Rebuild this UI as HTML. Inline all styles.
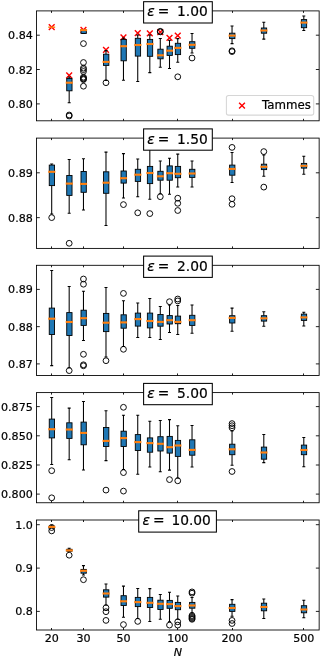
<!DOCTYPE html>
<html lang="en"><head><meta charset="utf-8"><title>Boxplots</title>
<style>
html,body{margin:0;padding:0;background:#fff;}
body{width:321px;height:658px;overflow:hidden;}
svg text{font-family:"DejaVu Sans", "Liberation Sans", sans-serif;fill:#000;stroke:#000;stroke-width:0.2px;}
</style></head><body>
<svg width="321" height="658" viewBox="0 0 321 658" style="display:block">
<rect width="321" height="658" fill="#fff"/>
<g class="panel">
<path d="M48.8 24.3L54.6 30.1M48.8 30.1L54.6 24.3" stroke="#f00" stroke-width="1.4" fill="none"/>
<path d="M66.28 72.4L72.08 78.2M66.28 78.2L72.08 72.4" stroke="#f00" stroke-width="1.4" fill="none"/>
<path d="M80.56 27L86.36 32.8M80.56 32.8L86.36 27" stroke="#f00" stroke-width="1.4" fill="none"/>
<path d="M103.09 47L108.89 52.8M103.09 52.8L108.89 47" stroke="#f00" stroke-width="1.4" fill="none"/>
<path d="M120.56 34.4L126.36 40.2M120.56 40.2L126.36 34.4" stroke="#f00" stroke-width="1.4" fill="none"/>
<path d="M134.84 30.3L140.64 36.1M134.84 36.1L140.64 30.3" stroke="#f00" stroke-width="1.4" fill="none"/>
<path d="M146.92 30.5L152.72 36.3M146.92 36.3L152.72 30.5" stroke="#f00" stroke-width="1.4" fill="none"/>
<path d="M157.38 29.3L163.18 35.1M157.38 35.1L163.18 29.3" stroke="#f00" stroke-width="1.4" fill="none"/>
<path d="M166.6 34.9L172.4 40.7M166.6 40.7L172.4 34.9" stroke="#f00" stroke-width="1.4" fill="none"/>
<path d="M174.85 32.7L180.65 38.5M174.85 38.5L180.65 32.7" stroke="#f00" stroke-width="1.4" fill="none"/>
<path d="M69.18 77V78.5M69.18 90.8V102.7M67.68 77H70.68M67.68 102.7H70.68" stroke="#000" stroke-width="1.05" fill="none"/>
<rect x="66.73" y="78.5" width="5.3" height="12.3" fill="#1f77b4" stroke="#000" stroke-width="0.9"/>
<path d="M83.46 29.6V29.6M83.46 33.5V33.5M81.96 29.6H84.96M81.96 33.5H84.96" stroke="#000" stroke-width="1.05" fill="none"/>
<rect x="81.01" y="29.6" width="5.3" height="3.9" fill="#1f77b4" stroke="#000" stroke-width="0.9"/>
<path d="M105.99 50.6V54.2M105.99 65.4V80.5M104.49 50.6H107.49M104.49 80.5H107.49" stroke="#000" stroke-width="1.05" fill="none"/>
<rect x="103.54" y="54.2" width="5.3" height="11.2" fill="#1f77b4" stroke="#000" stroke-width="0.9"/>
<path d="M123.46 38V39.4M123.46 60.8V80.2M121.96 38H124.96M121.96 80.2H124.96" stroke="#000" stroke-width="1.05" fill="none"/>
<rect x="121.01" y="39.4" width="5.3" height="21.4" fill="#1f77b4" stroke="#000" stroke-width="0.9"/>
<path d="M137.74 35V38.3M137.74 56.1V81.5M136.24 35H139.24M136.24 81.5H139.24" stroke="#000" stroke-width="1.05" fill="none"/>
<rect x="135.29" y="38.3" width="5.3" height="17.8" fill="#1f77b4" stroke="#000" stroke-width="0.9"/>
<path d="M149.82 35V39.4M149.82 56.3V72.6M148.32 35H151.32M148.32 72.6H151.32" stroke="#000" stroke-width="1.05" fill="none"/>
<rect x="147.37" y="39.4" width="5.3" height="16.9" fill="#1f77b4" stroke="#000" stroke-width="0.9"/>
<path d="M160.28 38.4V49.2M160.28 58.8V67.2M158.78 38.4H161.78M158.78 67.2H161.78" stroke="#000" stroke-width="1.05" fill="none"/>
<rect x="157.83" y="49.2" width="5.3" height="9.6" fill="#1f77b4" stroke="#000" stroke-width="0.9"/>
<path d="M169.5 40.3V46.2M169.5 55.4V68.4M168 40.3H171M168 68.4H171" stroke="#000" stroke-width="1.05" fill="none"/>
<rect x="167.05" y="46.2" width="5.3" height="9.2" fill="#1f77b4" stroke="#000" stroke-width="0.9"/>
<path d="M177.75 38.6V43.3M177.75 54.6V62.2M176.25 38.6H179.25M176.25 62.2H179.25" stroke="#000" stroke-width="1.05" fill="none"/>
<rect x="175.3" y="43.3" width="5.3" height="11.3" fill="#1f77b4" stroke="#000" stroke-width="0.9"/>
<path d="M192.03 33.5V41.7M192.03 48.3V53M190.53 33.5H193.53M190.53 53H193.53" stroke="#000" stroke-width="1.05" fill="none"/>
<rect x="189.58" y="41.7" width="5.3" height="6.6" fill="#1f77b4" stroke="#000" stroke-width="0.9"/>
<path d="M232.04 26V33.2M232.04 38.6V43.6M230.54 26H233.54M230.54 43.6H233.54" stroke="#000" stroke-width="1.05" fill="none"/>
<rect x="229.59" y="33.2" width="5.3" height="5.4" fill="#1f77b4" stroke="#000" stroke-width="0.9"/>
<path d="M263.8 22.3V28M263.8 33.2V39.1M262.3 22.3H265.3M262.3 39.1H265.3" stroke="#000" stroke-width="1.05" fill="none"/>
<rect x="261.35" y="28" width="5.3" height="5.2" fill="#1f77b4" stroke="#000" stroke-width="0.9"/>
<path d="M303.8 15.9V19.6M303.8 27.7V30.5M302.3 15.9H305.3M302.3 30.5H305.3" stroke="#000" stroke-width="1.05" fill="none"/>
<rect x="301.35" y="19.6" width="5.3" height="8.1" fill="#1f77b4" stroke="#000" stroke-width="0.9"/>
<circle cx="69.18" cy="115" r="2.9" fill="none" stroke="#000" stroke-width="0.95"/>
<circle cx="69.18" cy="116" r="2.9" fill="none" stroke="#000" stroke-width="0.95"/>
<circle cx="83.46" cy="43.6" r="2.9" fill="none" stroke="#000" stroke-width="0.95"/>
<circle cx="83.46" cy="62.5" r="2.9" fill="none" stroke="#000" stroke-width="0.95"/>
<circle cx="83.46" cy="68.1" r="2.9" fill="none" stroke="#000" stroke-width="0.95"/>
<circle cx="83.46" cy="69.6" r="2.9" fill="none" stroke="#000" stroke-width="0.95"/>
<circle cx="83.46" cy="71.5" r="2.9" fill="none" stroke="#000" stroke-width="0.95"/>
<circle cx="83.46" cy="77.2" r="2.9" fill="none" stroke="#000" stroke-width="0.95"/>
<circle cx="83.46" cy="78.2" r="2.9" fill="none" stroke="#000" stroke-width="0.95"/>
<circle cx="83.46" cy="78.9" r="2.9" fill="none" stroke="#000" stroke-width="0.95"/>
<circle cx="83.46" cy="79.6" r="2.9" fill="none" stroke="#000" stroke-width="0.95"/>
<circle cx="83.46" cy="86.2" r="2.9" fill="none" stroke="#000" stroke-width="0.95"/>
<circle cx="105.99" cy="82.7" r="2.9" fill="none" stroke="#000" stroke-width="0.95"/>
<circle cx="160.28" cy="31.3" r="2.9" fill="none" stroke="#000" stroke-width="0.95"/>
<circle cx="160.28" cy="31.9" r="2.9" fill="none" stroke="#000" stroke-width="0.95"/>
<circle cx="177.75" cy="76.8" r="2.9" fill="none" stroke="#000" stroke-width="0.95"/>
<circle cx="192.03" cy="58" r="2.9" fill="none" stroke="#000" stroke-width="0.95"/>
<circle cx="232.04" cy="50.8" r="2.9" fill="none" stroke="#000" stroke-width="0.95"/>
<circle cx="232.04" cy="51.6" r="2.9" fill="none" stroke="#000" stroke-width="0.95"/>
<path d="M48.25 27.2H55.15" stroke="#ff7f0e" stroke-width="1.4"/>
<path d="M65.73 82.7H72.83" stroke="#ff7f0e" stroke-width="2.1"/>
<path d="M80.01 30.1H87.11" stroke="#ff7f0e" stroke-width="2.1"/>
<path d="M102.54 61.9H109.64" stroke="#ff7f0e" stroke-width="2.1"/>
<path d="M120.01 46.2H127.11" stroke="#ff7f0e" stroke-width="2.1"/>
<path d="M134.29 45H141.39" stroke="#ff7f0e" stroke-width="2.1"/>
<path d="M146.37 44H153.47" stroke="#ff7f0e" stroke-width="2.1"/>
<path d="M156.83 55.3H163.93" stroke="#ff7f0e" stroke-width="2.1"/>
<path d="M166.05 50.7H173.15" stroke="#ff7f0e" stroke-width="2.1"/>
<path d="M174.3 47.9H181.4" stroke="#ff7f0e" stroke-width="2.1"/>
<path d="M188.58 44.8H195.68" stroke="#ff7f0e" stroke-width="2.1"/>
<path d="M228.59 35.6H235.69" stroke="#ff7f0e" stroke-width="2.1"/>
<path d="M260.35 30.5H267.45" stroke="#ff7f0e" stroke-width="2.1"/>
<path d="M300.35 22.6H307.45" stroke="#ff7f0e" stroke-width="2.1"/>
<path d="M51.5 10.9v2.0M51.5 120.8v-2.0M83.5 10.9v2.0M83.5 120.8v-2.0M123.5 10.9v2.0M123.5 120.8v-2.0M177.5 10.9v2.0M177.5 120.8v-2.0M232.5 10.9v2.0M232.5 120.8v-2.0M303.5 10.9v2.0M303.5 120.8v-2.0M36.5 35.2h3.3M319.15 35.2h-3.3M36.5 69.5h3.3M319.15 69.5h-3.3M36.5 103.9h3.3M319.15 103.9h-3.3" stroke="#000" stroke-width="0.87" fill="none"/>
<rect x="226.4" y="95.4" width="87.3" height="19.7" rx="2.2" fill="#fff" fill-opacity="0.8" stroke="#ccc" stroke-opacity="0.8" stroke-width="1.05"/>
<path d="M239.1 102.7L244.9 108.5M239.1 108.5L244.9 102.7" stroke="#f00" stroke-width="1.4" fill="none"/>
<text x="262.0" y="109.4" font-size="11.8">Tammes</text>
<rect x="36.5" y="10.9" width="282.65" height="109.9" fill="none" stroke="#000" stroke-width="0.87"/>
<text x="32.8" y="39.2" font-size="11.1" text-anchor="end">0.84</text>
<text x="32.8" y="73.5" font-size="11.1" text-anchor="end">0.82</text>
<text x="32.8" y="107.9" font-size="11.1" text-anchor="end">0.80</text>
<rect x="143.6" y="1.7" width="68.7" height="21.3" fill="#fff" stroke="#000" stroke-width="1.05"/>
<text y="16.3" font-size="13.8"><tspan x="147.2" font-style="italic">ε</tspan><tspan x="157.7">=</tspan><tspan x="177.1">1.00</tspan></text>
</g>
<g class="panel">
<path d="M51.7 163.9V165.1M51.7 185.6V214M50.2 163.9H53.2M50.2 214H53.2" stroke="#000" stroke-width="1.05" fill="none"/>
<rect x="49.25" y="165.1" width="5.3" height="20.5" fill="#1f77b4" stroke="#000" stroke-width="0.9"/>
<path d="M69.18 159.5V175.5M69.18 195.4V213.2M67.68 159.5H70.68M67.68 213.2H70.68" stroke="#000" stroke-width="1.05" fill="none"/>
<rect x="66.73" y="175.5" width="5.3" height="19.9" fill="#1f77b4" stroke="#000" stroke-width="0.9"/>
<path d="M83.46 158.7V171.5M83.46 192.3V210M81.96 158.7H84.96M81.96 210H84.96" stroke="#000" stroke-width="1.05" fill="none"/>
<rect x="81.01" y="171.5" width="5.3" height="20.8" fill="#1f77b4" stroke="#000" stroke-width="0.9"/>
<path d="M105.99 152.1V171.8M105.99 193.3V225.5M104.49 152.1H107.49M104.49 225.5H107.49" stroke="#000" stroke-width="1.05" fill="none"/>
<rect x="103.54" y="171.8" width="5.3" height="21.5" fill="#1f77b4" stroke="#000" stroke-width="0.9"/>
<path d="M123.46 153.6V171M123.46 183.1V197.9M121.96 153.6H124.96M121.96 197.9H124.96" stroke="#000" stroke-width="1.05" fill="none"/>
<rect x="121.01" y="171" width="5.3" height="12.1" fill="#1f77b4" stroke="#000" stroke-width="0.9"/>
<path d="M137.74 158.9V169.3M137.74 181.4V196.7M136.24 158.9H139.24M136.24 196.7H139.24" stroke="#000" stroke-width="1.05" fill="none"/>
<rect x="135.29" y="169.3" width="5.3" height="12.1" fill="#1f77b4" stroke="#000" stroke-width="0.9"/>
<path d="M149.82 146V166.4M149.82 183.6V199.2M148.32 146H151.32M148.32 199.2H151.32" stroke="#000" stroke-width="1.05" fill="none"/>
<rect x="147.37" y="166.4" width="5.3" height="17.2" fill="#1f77b4" stroke="#000" stroke-width="0.9"/>
<path d="M160.28 160.9V171.3M160.28 180.2V193.7M158.78 160.9H161.78M158.78 193.7H161.78" stroke="#000" stroke-width="1.05" fill="none"/>
<rect x="157.83" y="171.3" width="5.3" height="8.9" fill="#1f77b4" stroke="#000" stroke-width="0.9"/>
<path d="M169.5 158.3V165.9M169.5 180.2V194.2M168 158.3H171M168 194.2H171" stroke="#000" stroke-width="1.05" fill="none"/>
<rect x="167.05" y="165.9" width="5.3" height="14.3" fill="#1f77b4" stroke="#000" stroke-width="0.9"/>
<path d="M177.75 154.1V166.4M177.75 177.7V186.9M176.25 154.1H179.25M176.25 186.9H179.25" stroke="#000" stroke-width="1.05" fill="none"/>
<rect x="175.3" y="166.4" width="5.3" height="11.3" fill="#1f77b4" stroke="#000" stroke-width="0.9"/>
<path d="M192.03 160.9V169.3M192.03 177.4V186.9M190.53 160.9H193.53M190.53 186.9H193.53" stroke="#000" stroke-width="1.05" fill="none"/>
<rect x="189.58" y="169.3" width="5.3" height="8.1" fill="#1f77b4" stroke="#000" stroke-width="0.9"/>
<path d="M232.04 152.5V165.1M232.04 175.2V182.4M230.54 152.5H233.54M230.54 182.4H233.54" stroke="#000" stroke-width="1.05" fill="none"/>
<rect x="229.59" y="165.1" width="5.3" height="10.1" fill="#1f77b4" stroke="#000" stroke-width="0.9"/>
<path d="M263.8 155V164.2M263.8 169.6V176.3M262.3 155H265.3M262.3 176.3H265.3" stroke="#000" stroke-width="1.05" fill="none"/>
<rect x="261.35" y="164.2" width="5.3" height="5.4" fill="#1f77b4" stroke="#000" stroke-width="0.9"/>
<path d="M303.8 156.3V163.4M303.8 168.1V174.2M302.3 156.3H305.3M302.3 174.2H305.3" stroke="#000" stroke-width="1.05" fill="none"/>
<rect x="301.35" y="163.4" width="5.3" height="4.7" fill="#1f77b4" stroke="#000" stroke-width="0.9"/>
<circle cx="51.7" cy="217.6" r="2.9" fill="none" stroke="#000" stroke-width="0.95"/>
<circle cx="69.18" cy="243.3" r="2.9" fill="none" stroke="#000" stroke-width="0.95"/>
<circle cx="123.46" cy="204.6" r="2.9" fill="none" stroke="#000" stroke-width="0.95"/>
<circle cx="137.74" cy="212.8" r="2.9" fill="none" stroke="#000" stroke-width="0.95"/>
<circle cx="149.82" cy="213.6" r="2.9" fill="none" stroke="#000" stroke-width="0.95"/>
<circle cx="160.28" cy="196.7" r="2.9" fill="none" stroke="#000" stroke-width="0.95"/>
<circle cx="177.75" cy="198.2" r="2.9" fill="none" stroke="#000" stroke-width="0.95"/>
<circle cx="177.75" cy="203.3" r="2.9" fill="none" stroke="#000" stroke-width="0.95"/>
<circle cx="177.75" cy="210.5" r="2.9" fill="none" stroke="#000" stroke-width="0.95"/>
<circle cx="232.04" cy="147.4" r="2.9" fill="none" stroke="#000" stroke-width="0.95"/>
<circle cx="232.04" cy="198.7" r="2.9" fill="none" stroke="#000" stroke-width="0.95"/>
<circle cx="232.04" cy="204.3" r="2.9" fill="none" stroke="#000" stroke-width="0.95"/>
<circle cx="263.8" cy="151.6" r="2.9" fill="none" stroke="#000" stroke-width="0.95"/>
<circle cx="263.8" cy="187.1" r="2.9" fill="none" stroke="#000" stroke-width="0.95"/>
<path d="M48.25 171.8H55.35" stroke="#ff7f0e" stroke-width="2.1"/>
<path d="M65.73 183.6H72.83" stroke="#ff7f0e" stroke-width="2.1"/>
<path d="M80.01 183.9H87.11" stroke="#ff7f0e" stroke-width="2.1"/>
<path d="M102.54 182.7H109.64" stroke="#ff7f0e" stroke-width="2.1"/>
<path d="M120.01 178.2H127.11" stroke="#ff7f0e" stroke-width="2.1"/>
<path d="M134.29 174.7H141.39" stroke="#ff7f0e" stroke-width="2.1"/>
<path d="M146.37 173H153.47" stroke="#ff7f0e" stroke-width="2.1"/>
<path d="M156.83 176.3H163.93" stroke="#ff7f0e" stroke-width="2.1"/>
<path d="M166.05 173.2H173.15" stroke="#ff7f0e" stroke-width="2.1"/>
<path d="M174.3 173.8H181.4" stroke="#ff7f0e" stroke-width="2.1"/>
<path d="M188.58 173.5H195.68" stroke="#ff7f0e" stroke-width="2.1"/>
<path d="M228.59 168.9H235.69" stroke="#ff7f0e" stroke-width="2.1"/>
<path d="M260.35 166.8H267.45" stroke="#ff7f0e" stroke-width="2.1"/>
<path d="M300.35 165.8H307.45" stroke="#ff7f0e" stroke-width="2.1"/>
<path d="M51.5 138.1v2.0M51.5 248.4v-2.0M83.5 138.1v2.0M83.5 248.4v-2.0M123.5 138.1v2.0M123.5 248.4v-2.0M177.5 138.1v2.0M177.5 248.4v-2.0M232.5 138.1v2.0M232.5 248.4v-2.0M303.5 138.1v2.0M303.5 248.4v-2.0M36.5 172.8h3.3M319.15 172.8h-3.3M36.5 217.65h3.3M319.15 217.65h-3.3" stroke="#000" stroke-width="0.87" fill="none"/>
<rect x="36.5" y="138.1" width="282.65" height="110.3" fill="none" stroke="#000" stroke-width="0.87"/>
<text x="32.8" y="176.8" font-size="11.1" text-anchor="end">0.89</text>
<text x="32.8" y="221.65" font-size="11.1" text-anchor="end">0.88</text>
<rect x="143.6" y="128.9" width="68.7" height="21.3" fill="#fff" stroke="#000" stroke-width="1.05"/>
<text y="143.5" font-size="13.8"><tspan x="147.2" font-style="italic">ε</tspan><tspan x="157.7">=</tspan><tspan x="177.1">1.50</tspan></text>
</g>
<g class="panel">
<path d="M51.7 270.5V308.1M51.7 334.5V365.6M50.2 270.5H53.2M50.2 365.6H53.2" stroke="#000" stroke-width="1.05" fill="none"/>
<rect x="49.25" y="308.1" width="5.3" height="26.4" fill="#1f77b4" stroke="#000" stroke-width="0.9"/>
<path d="M69.18 286.5V312.6M69.18 335.5V367.8M67.68 286.5H70.68M67.68 367.8H70.68" stroke="#000" stroke-width="1.05" fill="none"/>
<rect x="66.73" y="312.6" width="5.3" height="22.9" fill="#1f77b4" stroke="#000" stroke-width="0.9"/>
<path d="M83.46 291.2V310.2M83.46 325.4V340.5M81.96 291.2H84.96M81.96 340.5H84.96" stroke="#000" stroke-width="1.05" fill="none"/>
<rect x="81.01" y="310.2" width="5.3" height="15.2" fill="#1f77b4" stroke="#000" stroke-width="0.9"/>
<path d="M105.99 287.5V313.4M105.99 331.6V357M104.49 287.5H107.49M104.49 357H107.49" stroke="#000" stroke-width="1.05" fill="none"/>
<rect x="103.54" y="313.4" width="5.3" height="18.2" fill="#1f77b4" stroke="#000" stroke-width="0.9"/>
<path d="M123.46 300.8V314.8M123.46 328.2V346.4M121.96 300.8H124.96M121.96 346.4H124.96" stroke="#000" stroke-width="1.05" fill="none"/>
<rect x="121.01" y="314.8" width="5.3" height="13.4" fill="#1f77b4" stroke="#000" stroke-width="0.9"/>
<path d="M137.74 303V313.1M137.74 326.1V337.5M136.24 303H139.24M136.24 337.5H139.24" stroke="#000" stroke-width="1.05" fill="none"/>
<rect x="135.29" y="313.1" width="5.3" height="13" fill="#1f77b4" stroke="#000" stroke-width="0.9"/>
<path d="M149.82 298.5V313.1M149.82 327.9V337.5M148.32 298.5H151.32M148.32 337.5H151.32" stroke="#000" stroke-width="1.05" fill="none"/>
<rect x="147.37" y="313.1" width="5.3" height="14.8" fill="#1f77b4" stroke="#000" stroke-width="0.9"/>
<path d="M160.28 306.4V314.5M160.28 326.2V339.5M158.78 306.4H161.78M158.78 339.5H161.78" stroke="#000" stroke-width="1.05" fill="none"/>
<rect x="157.83" y="314.5" width="5.3" height="11.7" fill="#1f77b4" stroke="#000" stroke-width="0.9"/>
<path d="M169.5 305V315.6M169.5 324V332.5M168 305H171M168 332.5H171" stroke="#000" stroke-width="1.05" fill="none"/>
<rect x="167.05" y="315.6" width="5.3" height="8.4" fill="#1f77b4" stroke="#000" stroke-width="0.9"/>
<path d="M177.75 305.5V316.1M177.75 323.7V334.5M176.25 305.5H179.25M176.25 334.5H179.25" stroke="#000" stroke-width="1.05" fill="none"/>
<rect x="175.3" y="316.1" width="5.3" height="7.6" fill="#1f77b4" stroke="#000" stroke-width="0.9"/>
<path d="M192.03 305V315.3M192.03 325.4V333.3M190.53 305H193.53M190.53 333.3H193.53" stroke="#000" stroke-width="1.05" fill="none"/>
<rect x="189.58" y="315.3" width="5.3" height="10.1" fill="#1f77b4" stroke="#000" stroke-width="0.9"/>
<path d="M232.04 308.1V315.7M232.04 323V331.3M230.54 308.1H233.54M230.54 331.3H233.54" stroke="#000" stroke-width="1.05" fill="none"/>
<rect x="229.59" y="315.7" width="5.3" height="7.3" fill="#1f77b4" stroke="#000" stroke-width="0.9"/>
<path d="M263.8 311.7V315.7M263.8 321.1V326.2M262.3 311.7H265.3M262.3 326.2H265.3" stroke="#000" stroke-width="1.05" fill="none"/>
<rect x="261.35" y="315.7" width="5.3" height="5.4" fill="#1f77b4" stroke="#000" stroke-width="0.9"/>
<path d="M303.8 312.3V314.1M303.8 320.4V325.9M302.3 312.3H305.3M302.3 325.9H305.3" stroke="#000" stroke-width="1.05" fill="none"/>
<rect x="301.35" y="314.1" width="5.3" height="6.3" fill="#1f77b4" stroke="#000" stroke-width="0.9"/>
<circle cx="69.18" cy="370.6" r="2.9" fill="none" stroke="#000" stroke-width="0.95"/>
<circle cx="83.46" cy="279" r="2.9" fill="none" stroke="#000" stroke-width="0.95"/>
<circle cx="83.46" cy="284.2" r="2.9" fill="none" stroke="#000" stroke-width="0.95"/>
<circle cx="83.46" cy="354.3" r="2.9" fill="none" stroke="#000" stroke-width="0.95"/>
<circle cx="83.46" cy="364.8" r="2.9" fill="none" stroke="#000" stroke-width="0.95"/>
<circle cx="83.46" cy="365.8" r="2.9" fill="none" stroke="#000" stroke-width="0.95"/>
<circle cx="105.99" cy="360.7" r="2.9" fill="none" stroke="#000" stroke-width="0.95"/>
<circle cx="123.46" cy="293.4" r="2.9" fill="none" stroke="#000" stroke-width="0.95"/>
<circle cx="123.46" cy="349.3" r="2.9" fill="none" stroke="#000" stroke-width="0.95"/>
<circle cx="169.5" cy="301.7" r="2.9" fill="none" stroke="#000" stroke-width="0.95"/>
<circle cx="177.75" cy="299" r="2.9" fill="none" stroke="#000" stroke-width="0.95"/>
<circle cx="177.75" cy="300.9" r="2.9" fill="none" stroke="#000" stroke-width="0.95"/>
<path d="M48.25 318.7H55.35" stroke="#ff7f0e" stroke-width="2.1"/>
<path d="M65.73 322H72.83" stroke="#ff7f0e" stroke-width="2.1"/>
<path d="M80.01 318.2H87.11" stroke="#ff7f0e" stroke-width="2.1"/>
<path d="M102.54 322.7H109.64" stroke="#ff7f0e" stroke-width="2.1"/>
<path d="M120.01 322.4H127.11" stroke="#ff7f0e" stroke-width="2.1"/>
<path d="M134.29 319.1H141.39" stroke="#ff7f0e" stroke-width="2.1"/>
<path d="M146.37 321H153.47" stroke="#ff7f0e" stroke-width="2.1"/>
<path d="M156.83 321.9H163.93" stroke="#ff7f0e" stroke-width="2.1"/>
<path d="M166.05 320.2H173.15" stroke="#ff7f0e" stroke-width="2.1"/>
<path d="M174.3 321.9H181.4" stroke="#ff7f0e" stroke-width="2.1"/>
<path d="M188.58 320.2H195.68" stroke="#ff7f0e" stroke-width="2.1"/>
<path d="M228.59 317.9H235.69" stroke="#ff7f0e" stroke-width="2.1"/>
<path d="M260.35 318.3H267.45" stroke="#ff7f0e" stroke-width="2.1"/>
<path d="M300.35 317.4H307.45" stroke="#ff7f0e" stroke-width="2.1"/>
<path d="M51.5 265.3v2.0M51.5 375.45v-2.0M83.5 265.3v2.0M83.5 375.45v-2.0M123.5 265.3v2.0M123.5 375.45v-2.0M177.5 265.3v2.0M177.5 375.45v-2.0M232.5 265.3v2.0M232.5 375.45v-2.0M303.5 265.3v2.0M303.5 375.45v-2.0M36.5 289.4h3.3M319.15 289.4h-3.3M36.5 326.65h3.3M319.15 326.65h-3.3M36.5 363.9h3.3M319.15 363.9h-3.3" stroke="#000" stroke-width="0.87" fill="none"/>
<rect x="36.5" y="265.3" width="282.65" height="110.15" fill="none" stroke="#000" stroke-width="0.87"/>
<text x="32.8" y="293.4" font-size="11.1" text-anchor="end">0.89</text>
<text x="32.8" y="330.65" font-size="11.1" text-anchor="end">0.88</text>
<text x="32.8" y="367.9" font-size="11.1" text-anchor="end">0.87</text>
<rect x="143.6" y="256.1" width="68.7" height="21.3" fill="#fff" stroke="#000" stroke-width="1.05"/>
<text y="270.7" font-size="13.8"><tspan x="147.2" font-style="italic">ε</tspan><tspan x="157.7">=</tspan><tspan x="177.1">2.00</tspan></text>
</g>
<g class="panel">
<path d="M51.7 397.5V419.1M51.7 437.9V464.5M50.2 397.5H53.2M50.2 464.5H53.2" stroke="#000" stroke-width="1.05" fill="none"/>
<rect x="49.25" y="419.1" width="5.3" height="18.8" fill="#1f77b4" stroke="#000" stroke-width="0.9"/>
<path d="M69.18 408.1V422.8M69.18 438.4V459.8M67.68 408.1H70.68M67.68 459.8H70.68" stroke="#000" stroke-width="1.05" fill="none"/>
<rect x="66.73" y="422.8" width="5.3" height="15.6" fill="#1f77b4" stroke="#000" stroke-width="0.9"/>
<path d="M83.46 401.4V422.1M83.46 444.8V470M81.96 401.4H84.96M81.96 470H84.96" stroke="#000" stroke-width="1.05" fill="none"/>
<rect x="81.01" y="422.1" width="5.3" height="22.7" fill="#1f77b4" stroke="#000" stroke-width="0.9"/>
<path d="M105.99 410.7V427.5M105.99 446.5V460.6M104.49 410.7H107.49M104.49 460.6H107.49" stroke="#000" stroke-width="1.05" fill="none"/>
<rect x="103.54" y="427.5" width="5.3" height="19" fill="#1f77b4" stroke="#000" stroke-width="0.9"/>
<path d="M123.46 415.2V431.2M123.46 446.5V469.5M121.96 415.2H124.96M121.96 469.5H124.96" stroke="#000" stroke-width="1.05" fill="none"/>
<rect x="121.01" y="431.2" width="5.3" height="15.3" fill="#1f77b4" stroke="#000" stroke-width="0.9"/>
<path d="M137.74 415.2V434.6M137.74 450.5V474.3M136.24 415.2H139.24M136.24 474.3H139.24" stroke="#000" stroke-width="1.05" fill="none"/>
<rect x="135.29" y="434.6" width="5.3" height="15.9" fill="#1f77b4" stroke="#000" stroke-width="0.9"/>
<path d="M149.82 421.3V437.9M149.82 452.2V467M148.32 421.3H151.32M148.32 467H151.32" stroke="#000" stroke-width="1.05" fill="none"/>
<rect x="147.37" y="437.9" width="5.3" height="14.3" fill="#1f77b4" stroke="#000" stroke-width="0.9"/>
<path d="M160.28 420.4V436.7M160.28 451V471.7M158.78 420.4H161.78M158.78 471.7H161.78" stroke="#000" stroke-width="1.05" fill="none"/>
<rect x="157.83" y="436.7" width="5.3" height="14.3" fill="#1f77b4" stroke="#000" stroke-width="0.9"/>
<path d="M169.5 419.6V436.4M169.5 453.1V470.1M168 419.6H171M168 470.1H171" stroke="#000" stroke-width="1.05" fill="none"/>
<rect x="167.05" y="436.4" width="5.3" height="16.7" fill="#1f77b4" stroke="#000" stroke-width="0.9"/>
<path d="M177.75 425.8V440.4M177.75 456.4V478M176.25 425.8H179.25M176.25 478H179.25" stroke="#000" stroke-width="1.05" fill="none"/>
<rect x="175.3" y="440.4" width="5.3" height="16" fill="#1f77b4" stroke="#000" stroke-width="0.9"/>
<path d="M192.03 425.5V439.8M192.03 455.2V467M190.53 425.5H193.53M190.53 467H193.53" stroke="#000" stroke-width="1.05" fill="none"/>
<rect x="189.58" y="439.8" width="5.3" height="15.4" fill="#1f77b4" stroke="#000" stroke-width="0.9"/>
<path d="M232.04 431V444.2M232.04 454.7V465.3M230.54 431H233.54M230.54 465.3H233.54" stroke="#000" stroke-width="1.05" fill="none"/>
<rect x="229.59" y="444.2" width="5.3" height="10.5" fill="#1f77b4" stroke="#000" stroke-width="0.9"/>
<path d="M263.8 434.5V447.1M263.8 459.2V462.6M262.3 434.5H265.3M262.3 462.6H265.3" stroke="#000" stroke-width="1.05" fill="none"/>
<rect x="261.35" y="447.1" width="5.3" height="12.1" fill="#1f77b4" stroke="#000" stroke-width="0.9"/>
<path d="M303.8 437.5V445.1M303.8 454.7V466.8M302.3 437.5H305.3M302.3 466.8H305.3" stroke="#000" stroke-width="1.05" fill="none"/>
<rect x="301.35" y="445.1" width="5.3" height="9.6" fill="#1f77b4" stroke="#000" stroke-width="0.9"/>
<circle cx="51.7" cy="470.7" r="2.9" fill="none" stroke="#000" stroke-width="0.95"/>
<circle cx="51.7" cy="497.8" r="2.9" fill="none" stroke="#000" stroke-width="0.95"/>
<circle cx="105.99" cy="490.1" r="2.9" fill="none" stroke="#000" stroke-width="0.95"/>
<circle cx="123.46" cy="407.3" r="2.9" fill="none" stroke="#000" stroke-width="0.95"/>
<circle cx="123.46" cy="472.6" r="2.9" fill="none" stroke="#000" stroke-width="0.95"/>
<circle cx="123.46" cy="491.1" r="2.9" fill="none" stroke="#000" stroke-width="0.95"/>
<circle cx="169.5" cy="479.6" r="2.9" fill="none" stroke="#000" stroke-width="0.95"/>
<circle cx="177.75" cy="480.8" r="2.9" fill="none" stroke="#000" stroke-width="0.95"/>
<circle cx="232.04" cy="423.6" r="2.9" fill="none" stroke="#000" stroke-width="0.95"/>
<circle cx="232.04" cy="425.7" r="2.9" fill="none" stroke="#000" stroke-width="0.95"/>
<circle cx="232.04" cy="427.8" r="2.9" fill="none" stroke="#000" stroke-width="0.95"/>
<circle cx="232.04" cy="471.5" r="2.9" fill="none" stroke="#000" stroke-width="0.95"/>
<path d="M48.25 429.2H55.35" stroke="#ff7f0e" stroke-width="2.1"/>
<path d="M65.73 429.5H72.83" stroke="#ff7f0e" stroke-width="2.1"/>
<path d="M80.01 432.9H87.11" stroke="#ff7f0e" stroke-width="2.1"/>
<path d="M102.54 440.9H109.64" stroke="#ff7f0e" stroke-width="2.1"/>
<path d="M120.01 438.1H127.11" stroke="#ff7f0e" stroke-width="2.1"/>
<path d="M134.29 442.1H141.39" stroke="#ff7f0e" stroke-width="2.1"/>
<path d="M146.37 443.1H153.47" stroke="#ff7f0e" stroke-width="2.1"/>
<path d="M156.83 443.8H163.93" stroke="#ff7f0e" stroke-width="2.1"/>
<path d="M166.05 447.2H173.15" stroke="#ff7f0e" stroke-width="2.1"/>
<path d="M174.3 445.5H181.4" stroke="#ff7f0e" stroke-width="2.1"/>
<path d="M188.58 449.9H195.68" stroke="#ff7f0e" stroke-width="2.1"/>
<path d="M228.59 449.3H235.69" stroke="#ff7f0e" stroke-width="2.1"/>
<path d="M260.35 452.5H267.45" stroke="#ff7f0e" stroke-width="2.1"/>
<path d="M300.35 450H307.45" stroke="#ff7f0e" stroke-width="2.1"/>
<path d="M51.5 392.6v2.0M51.5 502.75v-2.0M83.5 392.6v2.0M83.5 502.75v-2.0M123.5 392.6v2.0M123.5 502.75v-2.0M177.5 392.6v2.0M177.5 502.75v-2.0M232.5 392.6v2.0M232.5 502.75v-2.0M303.5 392.6v2.0M303.5 502.75v-2.0M36.5 406.6h3.3M319.15 406.6h-3.3M36.5 435.8h3.3M319.15 435.8h-3.3M36.5 465h3.3M319.15 465h-3.3M36.5 494.1h3.3M319.15 494.1h-3.3" stroke="#000" stroke-width="0.87" fill="none"/>
<rect x="36.5" y="392.6" width="282.65" height="110.15" fill="none" stroke="#000" stroke-width="0.87"/>
<text x="32.8" y="410.6" font-size="11.1" text-anchor="end">0.875</text>
<text x="32.8" y="439.8" font-size="11.1" text-anchor="end">0.850</text>
<text x="32.8" y="469" font-size="11.1" text-anchor="end">0.825</text>
<text x="32.8" y="498.1" font-size="11.1" text-anchor="end">0.800</text>
<rect x="143.6" y="383.4" width="68.7" height="21.3" fill="#fff" stroke="#000" stroke-width="1.05"/>
<text y="398" font-size="13.8"><tspan x="147.2" font-style="italic">ε</tspan><tspan x="157.7">=</tspan><tspan x="177.1">5.00</tspan></text>
</g>
<g class="panel">
<path d="M51.7 525V526.2M51.7 527.6V527.6M50.2 525H53.2M50.2 527.6H53.2" stroke="#000" stroke-width="1.05" fill="none"/>
<rect x="49.25" y="526.2" width="5.3" height="1.4" fill="#1f77b4" stroke="#000" stroke-width="0.9"/>
<path d="M69.18 548.2V549.3M69.18 551.2V551.2M67.68 548.2H70.68M67.68 551.2H70.68" stroke="#000" stroke-width="1.05" fill="none"/>
<rect x="66.73" y="549.3" width="5.3" height="1.9" fill="#1f77b4" stroke="#000" stroke-width="0.9"/>
<path d="M83.46 565.6V569.4M83.46 573.2V575M81.96 565.6H84.96M81.96 575H84.96" stroke="#000" stroke-width="1.05" fill="none"/>
<rect x="81.01" y="569.4" width="5.3" height="3.8" fill="#1f77b4" stroke="#000" stroke-width="0.9"/>
<path d="M105.99 583.9V589.8M105.99 597.1V605M104.49 583.9H107.49M104.49 605H107.49" stroke="#000" stroke-width="1.05" fill="none"/>
<rect x="103.54" y="589.8" width="5.3" height="7.3" fill="#1f77b4" stroke="#000" stroke-width="0.9"/>
<path d="M123.46 586.1V595.7M123.46 605.5V617.2M121.96 586.1H124.96M121.96 617.2H124.96" stroke="#000" stroke-width="1.05" fill="none"/>
<rect x="121.01" y="595.7" width="5.3" height="9.8" fill="#1f77b4" stroke="#000" stroke-width="0.9"/>
<path d="M137.74 588.5V597.4M137.74 606.6V618.4M136.24 588.5H139.24M136.24 618.4H139.24" stroke="#000" stroke-width="1.05" fill="none"/>
<rect x="135.29" y="597.4" width="5.3" height="9.2" fill="#1f77b4" stroke="#000" stroke-width="0.9"/>
<path d="M149.82 588.6V597.4M149.82 607.5V621.4M148.32 588.6H151.32M148.32 621.4H151.32" stroke="#000" stroke-width="1.05" fill="none"/>
<rect x="147.37" y="597.4" width="5.3" height="10.1" fill="#1f77b4" stroke="#000" stroke-width="0.9"/>
<path d="M160.28 594.4V600.2M160.28 609.5V619.3M158.78 594.4H161.78M158.78 619.3H161.78" stroke="#000" stroke-width="1.05" fill="none"/>
<rect x="157.83" y="600.2" width="5.3" height="9.3" fill="#1f77b4" stroke="#000" stroke-width="0.9"/>
<path d="M169.5 592.3V600.4M169.5 608.3V621.8M168 592.3H171M168 621.8H171" stroke="#000" stroke-width="1.05" fill="none"/>
<rect x="167.05" y="600.4" width="5.3" height="7.9" fill="#1f77b4" stroke="#000" stroke-width="0.9"/>
<path d="M177.75 596V602.4M177.75 609.7V619.3M176.25 596H179.25M176.25 619.3H179.25" stroke="#000" stroke-width="1.05" fill="none"/>
<rect x="175.3" y="602.4" width="5.3" height="7.3" fill="#1f77b4" stroke="#000" stroke-width="0.9"/>
<path d="M192.03 597.5V602.4M192.03 608.2V612.7M190.53 597.5H193.53M190.53 612.7H193.53" stroke="#000" stroke-width="1.05" fill="none"/>
<rect x="189.58" y="602.4" width="5.3" height="5.8" fill="#1f77b4" stroke="#000" stroke-width="0.9"/>
<path d="M232.04 599.6V604.3M232.04 611.4V616.2M230.54 599.6H233.54M230.54 616.2H233.54" stroke="#000" stroke-width="1.05" fill="none"/>
<rect x="229.59" y="604.3" width="5.3" height="7.1" fill="#1f77b4" stroke="#000" stroke-width="0.9"/>
<path d="M263.8 598.9V603.2M263.8 610.8V618.4M262.3 598.9H265.3M262.3 618.4H265.3" stroke="#000" stroke-width="1.05" fill="none"/>
<rect x="261.35" y="603.2" width="5.3" height="7.6" fill="#1f77b4" stroke="#000" stroke-width="0.9"/>
<path d="M303.8 600.2V605.7M303.8 612.8V617.8M302.3 600.2H305.3M302.3 617.8H305.3" stroke="#000" stroke-width="1.05" fill="none"/>
<rect x="301.35" y="605.7" width="5.3" height="7.1" fill="#1f77b4" stroke="#000" stroke-width="0.9"/>
<circle cx="51.7" cy="527.55" r="2.9" fill="none" stroke="#000" stroke-width="0.95"/>
<circle cx="51.7" cy="530.9" r="2.9" fill="none" stroke="#000" stroke-width="0.95"/>
<circle cx="69.18" cy="555.2" r="2.9" fill="none" stroke="#000" stroke-width="0.95"/>
<circle cx="83.46" cy="579.7" r="2.9" fill="none" stroke="#000" stroke-width="0.95"/>
<circle cx="105.99" cy="607.8" r="2.9" fill="none" stroke="#000" stroke-width="0.95"/>
<circle cx="105.99" cy="611.7" r="2.9" fill="none" stroke="#000" stroke-width="0.95"/>
<circle cx="105.99" cy="620.4" r="2.9" fill="none" stroke="#000" stroke-width="0.95"/>
<circle cx="123.46" cy="624.6" r="2.9" fill="none" stroke="#000" stroke-width="0.95"/>
<circle cx="137.74" cy="621.4" r="2.9" fill="none" stroke="#000" stroke-width="0.95"/>
<circle cx="169.5" cy="625.1" r="2.9" fill="none" stroke="#000" stroke-width="0.95"/>
<circle cx="177.75" cy="621.8" r="2.9" fill="none" stroke="#000" stroke-width="0.95"/>
<circle cx="177.75" cy="625.1" r="2.9" fill="none" stroke="#000" stroke-width="0.95"/>
<circle cx="192.03" cy="591.9" r="2.9" fill="none" stroke="#000" stroke-width="0.95"/>
<circle cx="192.03" cy="593.2" r="2.9" fill="none" stroke="#000" stroke-width="0.95"/>
<circle cx="192.03" cy="615.5" r="2.9" fill="none" stroke="#000" stroke-width="0.95"/>
<circle cx="192.03" cy="616.5" r="2.9" fill="none" stroke="#000" stroke-width="0.95"/>
<circle cx="192.03" cy="617.5" r="2.9" fill="none" stroke="#000" stroke-width="0.95"/>
<circle cx="192.03" cy="618.5" r="2.9" fill="none" stroke="#000" stroke-width="0.95"/>
<circle cx="192.03" cy="619.3" r="2.9" fill="none" stroke="#000" stroke-width="0.95"/>
<circle cx="232.04" cy="620.4" r="2.9" fill="none" stroke="#000" stroke-width="0.95"/>
<circle cx="232.04" cy="623.5" r="2.9" fill="none" stroke="#000" stroke-width="0.95"/>
<path d="M48.25 526.9H55.35" stroke="#ff7f0e" stroke-width="2.1"/>
<path d="M65.73 550.4H72.83" stroke="#ff7f0e" stroke-width="2.1"/>
<path d="M80.01 570.8H87.11" stroke="#ff7f0e" stroke-width="2.1"/>
<path d="M102.54 593.5H109.64" stroke="#ff7f0e" stroke-width="2.1"/>
<path d="M120.01 601.3H127.11" stroke="#ff7f0e" stroke-width="2.1"/>
<path d="M134.29 602.1H141.39" stroke="#ff7f0e" stroke-width="2.1"/>
<path d="M146.37 602.8H153.47" stroke="#ff7f0e" stroke-width="2.1"/>
<path d="M156.83 603.8H163.93" stroke="#ff7f0e" stroke-width="2.1"/>
<path d="M166.05 604.1H173.15" stroke="#ff7f0e" stroke-width="2.1"/>
<path d="M174.3 606.1H181.4" stroke="#ff7f0e" stroke-width="2.1"/>
<path d="M188.58 605.5H195.68" stroke="#ff7f0e" stroke-width="2.1"/>
<path d="M228.59 608H235.69" stroke="#ff7f0e" stroke-width="2.1"/>
<path d="M260.35 607H267.45" stroke="#ff7f0e" stroke-width="2.1"/>
<path d="M300.35 609.5H307.45" stroke="#ff7f0e" stroke-width="2.1"/>
<path d="M51.5 520v2.0M51.5 630v-2.0M83.5 520v2.0M83.5 630v-2.0M123.5 520v2.0M123.5 630v-2.0M177.5 520v2.0M177.5 630v-2.0M232.5 520v2.0M232.5 630v-2.0M303.5 520v2.0M303.5 630v-2.0M36.5 524.7h3.3M319.15 524.7h-3.3M36.5 568.1h3.3M319.15 568.1h-3.3M36.5 611.4h3.3M319.15 611.4h-3.3" stroke="#000" stroke-width="0.87" fill="none"/>
<rect x="36.5" y="520" width="282.65" height="110" fill="none" stroke="#000" stroke-width="0.87"/>
<text x="32.8" y="528.7" font-size="11.1" text-anchor="end">1.0</text>
<text x="32.8" y="572.1" font-size="11.1" text-anchor="end">0.9</text>
<text x="32.8" y="615.4" font-size="11.1" text-anchor="end">0.8</text>
<rect x="138.7" y="510.8" width="77.7" height="21.3" fill="#fff" stroke="#000" stroke-width="1.05"/>
<text y="525.4" font-size="13.8"><tspan x="142.5" font-style="italic">ε</tspan><tspan x="153.0">=</tspan><tspan x="171.4">10.00</tspan></text>
</g>
<text x="51.7" y="642.0" font-size="11.1" text-anchor="middle">20</text>
<text x="83.46" y="642.0" font-size="11.1" text-anchor="middle">30</text>
<text x="123.46" y="642.0" font-size="11.1" text-anchor="middle">50</text>
<text x="177.75" y="642.0" font-size="11.1" text-anchor="middle">100</text>
<text x="232.04" y="642.0" font-size="11.1" text-anchor="middle">200</text>
<text x="303.8" y="642.0" font-size="11.1" text-anchor="middle">500</text>
<text x="178" y="656.2" font-size="11.1" text-anchor="middle" font-style="italic">N</text>
</svg>
</body></html>
